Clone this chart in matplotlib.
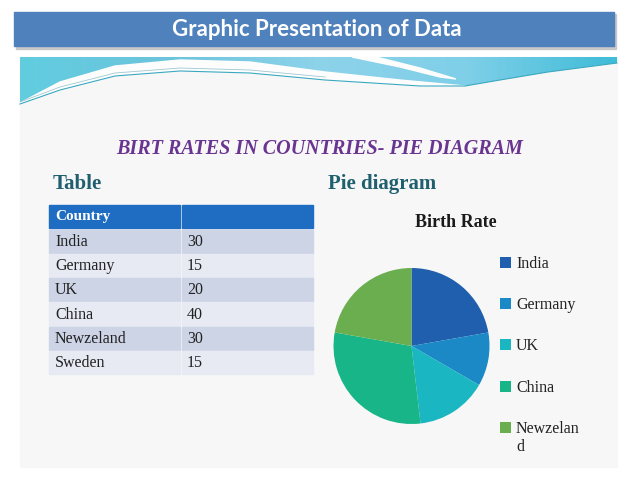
import matplotlib
matplotlib.use('Agg')
import numpy as np
import matplotlib.pyplot as plt
from matplotlib.patches import Rectangle, Polygon

countries = ['India', 'Germany', 'UK', 'China', 'Newzeland', 'Sweden']
rates = [30, 15, 20, 40, 30, 15]
pie_labels = ['India', 'Germany', 'UK', 'China', 'Newzelan']
pie_values = [30, 15, 20, 40, 30]
pie_colors = ['#1f5fad', '#1a89c6', '#1ab6c2', '#17b587', '#6aae4f']

serif = 'Liberation Serif'

fig = plt.figure(figsize=(6.38, 4.78), dpi=100)
fig.patch.set_facecolor('white')

# background "slide" drawn in pixel coordinates
bg = fig.add_axes([0, 0, 1, 1])
bg.set_xlim(0, 638)
bg.set_ylim(478, 0)
bg.axis('off')

bg.add_patch(Rectangle((20, 57), 597, 410, color='#f7f7f7', zorder=0))

# title bar with a soft shadow
bg.add_patch(Rectangle((16, 14), 600, 35, color='#c8c8c8', zorder=1))
bg.add_patch(Rectangle((14, 12), 600, 34, color='#4f81bd', zorder=2))
bg.text(317, 29.5, 'Graphic Presentation of Data', color='white', fontsize=16,
        fontweight='bold', family='Lato', ha='center', va='center', zorder=3)

# wave decoration
low = [(617, 63), (548, 72), (500, 80), (465, 86), (420, 86), (325, 80),
       (250, 73), (180, 71), (115, 76), (60, 90), (20, 104)]
wave = Polygon([(20, 57), (617, 57)] + low, closed=True, facecolor='none',
               edgecolor='none', zorder=1)
bg.add_patch(wave)
grad = np.linspace(0, 1, 256).reshape(1, -1)
from matplotlib.colors import LinearSegmentedColormap
cmap = LinearSegmentedColormap.from_list('wave', ['#62cde0', '#6cc4dc', '#8dd3ea',
                                                  '#7fcfe8', '#3fbcd8'])
im = bg.imshow(grad, cmap=cmap, extent=(20, 617, 108, 57), aspect='auto', zorder=1)
im.set_clip_path(wave)
bg.set_xlim(0, 638)
bg.set_ylim(478, 0)

bg.add_patch(Polygon([(20, 103), (60, 82), (115, 66), (180, 60), (250, 62),
                      (325, 72), (400, 80), (465, 86), (420, 86), (325, 80),
                      (250, 73), (180, 71), (115, 76), (60, 90), (20, 104)],
                     closed=True, color='#fdfdfd', zorder=2))
bg.add_patch(Polygon([(352, 57), (376, 57), (420, 68), (456, 79), (440, 77),
                      (400, 67)], closed=True, color='#fdfdfd', zorder=2))
lx, ly = zip(*low[::-1])
bg.plot(lx, ly, color='#3aa9c0', lw=0.8, zorder=3)
bg.plot([20, 60, 115, 180, 250, 325], [102, 87, 73, 68, 70, 77],
        color='#9fc8d2', lw=0.6, zorder=3)

# headings
bg.text(320, 149, 'BIRT RATES IN COUNTRIES- PIE DIAGRAM', color='#6a3591',
        fontsize=14.5, fontweight='bold', style='italic', family=serif,
        ha='center', va='center')
bg.text(53, 184, 'Table', color='#1f5f6e', fontsize=15, fontweight='bold',
        family=serif, ha='left', va='center')
bg.text(328, 184, 'Pie diagram', color='#1f5f6e', fontsize=15, fontweight='bold',
        family=serif, ha='left', va='center')

# table
x0, x1, x2 = 49, 181, 313
top, head_h, row_h = 205, 23, 24.3
bg.add_patch(Rectangle((x0, top), x1 - x0 - 1, head_h, color='#1f6dc3'))
bg.add_patch(Rectangle((x1 + 1, top), x2 - x1 - 1, head_h, color='#1f6dc3'))
bg.text(55, top + head_h / 2, 'Country', color='white', fontsize=11,
        fontweight='bold', family=serif, ha='left', va='center')
for i, (name, val) in enumerate(zip(countries, rates)):
    y = top + head_h + 1.5 + i * row_h
    c = '#cdd4e6' if i % 2 == 0 else '#e7eaf3'
    bg.add_patch(Rectangle((x0, y), x1 - x0 - 1, row_h - 1, color=c))
    bg.add_patch(Rectangle((x1 + 1, y), x2 - x1 - 1, row_h - 1, color=c))
    bg.text(55, y + row_h / 2, name, color='#222222', fontsize=11.5,
            family=serif, ha='left', va='center')
    bg.text(187, y + row_h / 2, str(val), color='#222222', fontsize=11.5,
            family=serif, ha='left', va='center')

# pie chart
cx, cy, r = 411.5, 346, 78
pax = fig.add_axes([(cx - r) / 638, (478 - cy - r) / 478, 2 * r / 638, 2 * r / 478])
wedges, _ = pax.pie(pie_values, colors=pie_colors, startangle=90,
                    counterclock=False, radius=1)
pax.set_xlim(-1, 1)
pax.set_ylim(-1, 1)
pax.set_aspect('auto')

bg.text(456, 222, 'Birth Rate', color='#1a1a1a', fontsize=13, fontweight='bold',
        family=serif, ha='center', va='center')

leg = fig.legend(wedges, pie_labels, loc='upper left',
                 bbox_to_anchor=(500 / 638, 1 - 256 / 478), frameon=False,
                 prop={'family': serif, 'size': 11.5}, handlelength=0.7,
                 handleheight=0.7, handletextpad=0.3, labelspacing=1.58,
                 borderpad=0, borderaxespad=0)
for t in leg.get_texts():
    t.set_color('#222222')
# the long label wraps onto a second line in the original slide
bg.text(516, 447, 'd', color='#222222', fontsize=11.5, family=serif,
        ha='left', va='center')

fig.savefig('out.png', dpi=100, facecolor='white')
